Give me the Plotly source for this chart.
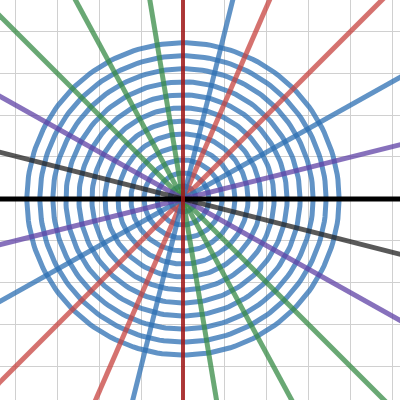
import numpy as np
import plotly.graph_objects as go

# circle radii (grid units)
radii = [0.31, 0.62, 0.93, 1.24, 1.55, 1.86, 2.17, 2.48, 2.79, 3.1, 3.41, 3.72]
# lines through origin: slope, colour
slopes = [1.0, 2.3, 4.0, 0.56, -1.0, -1.85, -6.0, -0.56, 0.25, -0.255, 0.0]
colors = ["#c74440", "#c74440", "#2d70b3", "#2d70b3", "#388c46", "#388c46", "#388c46",
          "#6042a6", "#6042a6", "#222222", "#000000"]

fig = go.Figure()
t = np.linspace(0, 2 * np.pi, 200)
for r in radii:
    fig.add_trace(go.Scatter(x=r * np.cos(t), y=r * np.sin(t), mode="lines",
                             line=dict(color="#2d70b3", width=5), opacity=0.75))
for s, c in zip(slopes, colors):
    xs = [-20, 20] if abs(s) < 1 else [-20 / abs(s), 20 / abs(s)]
    fig.add_trace(go.Scatter(x=xs, y=[s * v for v in xs], mode="lines",
                             line=dict(color=c, width=5), opacity=0.75 if c != "#000000" else 1))
fig.add_trace(go.Scatter(x=[0, 0], y=[-20, 20], mode="lines",
                         line=dict(color="#a01818", width=4), opacity=0.85))

fig.update_layout(width=400, height=400, margin=dict(l=0, r=0, t=0, b=0),
                  plot_bgcolor="white", showlegend=False)
fig.update_xaxes(range=[-4.36, 5.17], dtick=1, showgrid=True, gridcolor="#d0d0d0",
                 zeroline=False, showticklabels=False)
fig.update_yaxes(range=[-4.79, 4.74], dtick=1, showgrid=True, gridcolor="#d0d0d0",
                 zeroline=False, showticklabels=False)
fig.write_html("out.html", config={"displayModeBar": False},
               post_script="document.body.style.margin='0';")
